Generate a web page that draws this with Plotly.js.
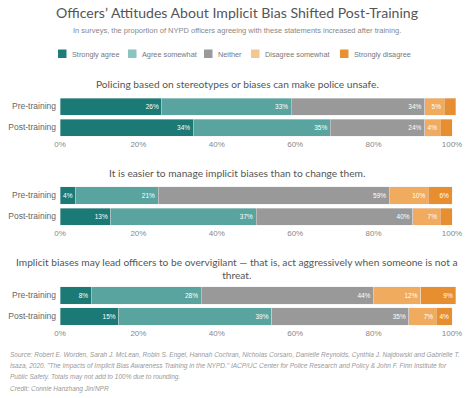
<!DOCTYPE html>
<html><head><meta charset="utf-8">
<script src="https://cdn.plot.ly/plotly-3.0.1.min.js"></script>
<style>html,body{margin:0;padding:0;background:#fff}#chart{width:474px;height:398px}</style>
</head><body><div id="chart"></div>
<script>
const rows = ['Pre-training', 'Post-training'];
const responses = ['Strongly agree', 'Agree somewhat', 'Neither', 'Disagree somewhat', 'Strongly disagree'];
const questions = [
  'Policing based on stereotypes or biases can make police unsafe.',
  'It is easier to manage implicit biases than to change them.',
  'Implicit biases may lead officers to be overvigilant — that is, act aggressively when someone is not a<br>threat.'
];
// values per question: [pre, post], each in response order
const q1Pre = [26, 33, 34, 5, 3];
const q1Post = [34, 35, 24, 4, 3];
const q2Pre = [4, 21, 59, 10, 6];
const q2Post = [13, 37, 40, 7, 3];
const q3Pre = [8, 28, 44, 12, 9];
const q3Post = [15, 39, 35, 7, 4];
// which segments carry a printed label
const q1PreShow = [1, 1, 1, 1, 0];
const q1PostShow = [1, 1, 1, 1, 0];
const q2PreShow = [1, 1, 1, 1, 1];
const q2PostShow = [1, 1, 1, 1, 0];
const q3PreShow = [1, 1, 1, 1, 1];
const q3PostShow = [1, 1, 1, 1, 1];
const tickVals = [0, 20, 40, 60, 80, 100];
const tickText = ['0%', '20%', '40%', '60%', '80%', '100%'];

const barColors = ['#1b7a75', '#5aa49f', '#999999', '#f0ab5e', '#e78e30'];
const legendColors = ['#1e7d78', '#8ac3bf', '#9a9a9a', '#f2c792', '#e8922f'];

const panels = [
  {pre: q1Pre, post: q1Post, preShow: q1PreShow, postShow: q1PostShow},
  {pre: q2Pre, post: q2Post, preShow: q2PreShow, postShow: q2PostShow},
  {pre: q3Pre, post: q3Post, preShow: q3PreShow, postShow: q3PostShow}
];

const W = 474, H = 398;
const px = v => v / W;
const py = v => 1 - v / H;

const traces = [];
panels.forEach((p, pi) => {
  const sfx = pi === 0 ? '' : String(pi + 1);
  responses.forEach((r, ri) => {
    traces.push({
      type: 'bar', orientation: 'h', name: r, showlegend: false,
      y: rows, x: [p.pre[ri], p.post[ri]],
      text: [p.preShow[ri] ? p.pre[ri] + '%' : '', p.postShow[ri] ? p.post[ri] + '%' : ''],
      textposition: 'inside', insidetextanchor: 'end', textangle: 0,
      textfont: {size: 6.5, color: '#ffffff', family: 'Liberation Sans, Arial, sans-serif'},
      marker: {color: barColors[ri], line: {color: 'rgba(235,235,235,0.8)', width: 0.5}},
      cliponaxis: false, hoverinfo: 'skip',
      xaxis: 'x' + sfx, yaxis: 'y' + sfx
    });
  });
});

// 0..100 maps to 60..452 px; range extended to 101.5 so 101% totals fit
const xMax = 101.5;
const xDom = [px(60), px(60 + 3.92 * xMax)];
const yDoms = [[py(138), py(96)], [py(227), py(185)], [py(327), py(285)]];

const font = 'Liberation Sans, Arial, sans-serif';
const titleFont = 'Lato, Open Sans, sans-serif';

const layout = {
  width: W, height: H,
  margin: {l: 0, r: 0, t: 0, b: 0},
  paper_bgcolor: '#ffffff', plot_bgcolor: '#ffffff',
  barmode: 'stack', bargap: 0.19,
  showlegend: false,
  font: {family: font, color: '#666'},
  annotations: [], shapes: []
};
yDoms.forEach((d, i) => {
  const sfx = i === 0 ? '' : String(i + 1);
  layout['xaxis' + sfx] = {
    domain: xDom, range: [0, xMax], anchor: 'y' + sfx,
    tickvals: tickVals, ticktext: tickText,
    tickfont: {size: 8, color: '#888', family: font},
    showgrid: false, zeroline: false, showline: false, ticks: '', fixedrange: true
  };
  layout['yaxis' + sfx] = {
    domain: d, anchor: 'x' + sfx, autorange: 'reversed', type: 'category',
    tickfont: {size: 8.5, color: '#666', family: font}, ticklabelstandoff: 3,
    showgrid: false, zeroline: false, showline: false, ticks: '', fixedrange: true
  };
});

function ann(text, x, y, size, color, family, xanchor) {
  layout.annotations.push({
    text: text, x: x, y: y, xref: 'paper', yref: 'paper', showarrow: false,
    xanchor: xanchor || 'center', yanchor: 'middle',
    font: {size: size, color: color, family: family}
  });
}

// Titles
ann('Officers’ Attitudes About Implicit Bias Shifted Post-Training', 0.5, py(12), 14.1, '#555', titleFont);
ann('In surveys, the proportion of NYPD officers agreeing with these statements increased after training.', 0.5, py(31), 7.5, '#888', font);
const qY = [84, 173, 268];
questions.forEach((q, i) => ann(q, 0.5, py(qY[i]), 10.2, '#555', titleFont));

// Legend (custom)
const legSwatchX = [58, 128, 204, 251, 340];
responses.forEach((r, i) => {
  layout.shapes.push({
    type: 'rect', xref: 'paper', yref: 'paper',
    x0: px(legSwatchX[i]), x1: px(legSwatchX[i] + 8.5),
    y0: py(58), y1: py(49.5), fillcolor: legendColors[i], line: {width: 0}
  });
  ann(r, px(legSwatchX[i] + 11.5), py(54), 7.3, '#777', font, 'left');
});

// Source
const sourceLines = [
  'Source: Robert E. Worden, Sarah J. McLean, Robin S. Engel, Hannah Cochran, Nicholas Corsaro, Danielle Reynolds, Cynthia J. Najdowski and Gabrielle T.',
  'Isaza, 2020. "The Impacts of Implicit Bias Awareness Training in the NYPD." IACP/UC Center for Police Research and Policy &amp; John F. Finn Institute for',
  'Public Safety. Totals may not add to 100% due to rounding.',
  'Credit: Connie Hanzhang Jin/NPR'
];
const srcY = [355, 366, 377, 389];
sourceLines.forEach((t, i) => ann('<i>' + t + '</i>', px(8), py(srcY[i]), 6.5, '#999', font, 'left'));

Plotly.newPlot('chart', traces, layout, {displayModeBar: false, staticPlot: true});
</script></body></html>
